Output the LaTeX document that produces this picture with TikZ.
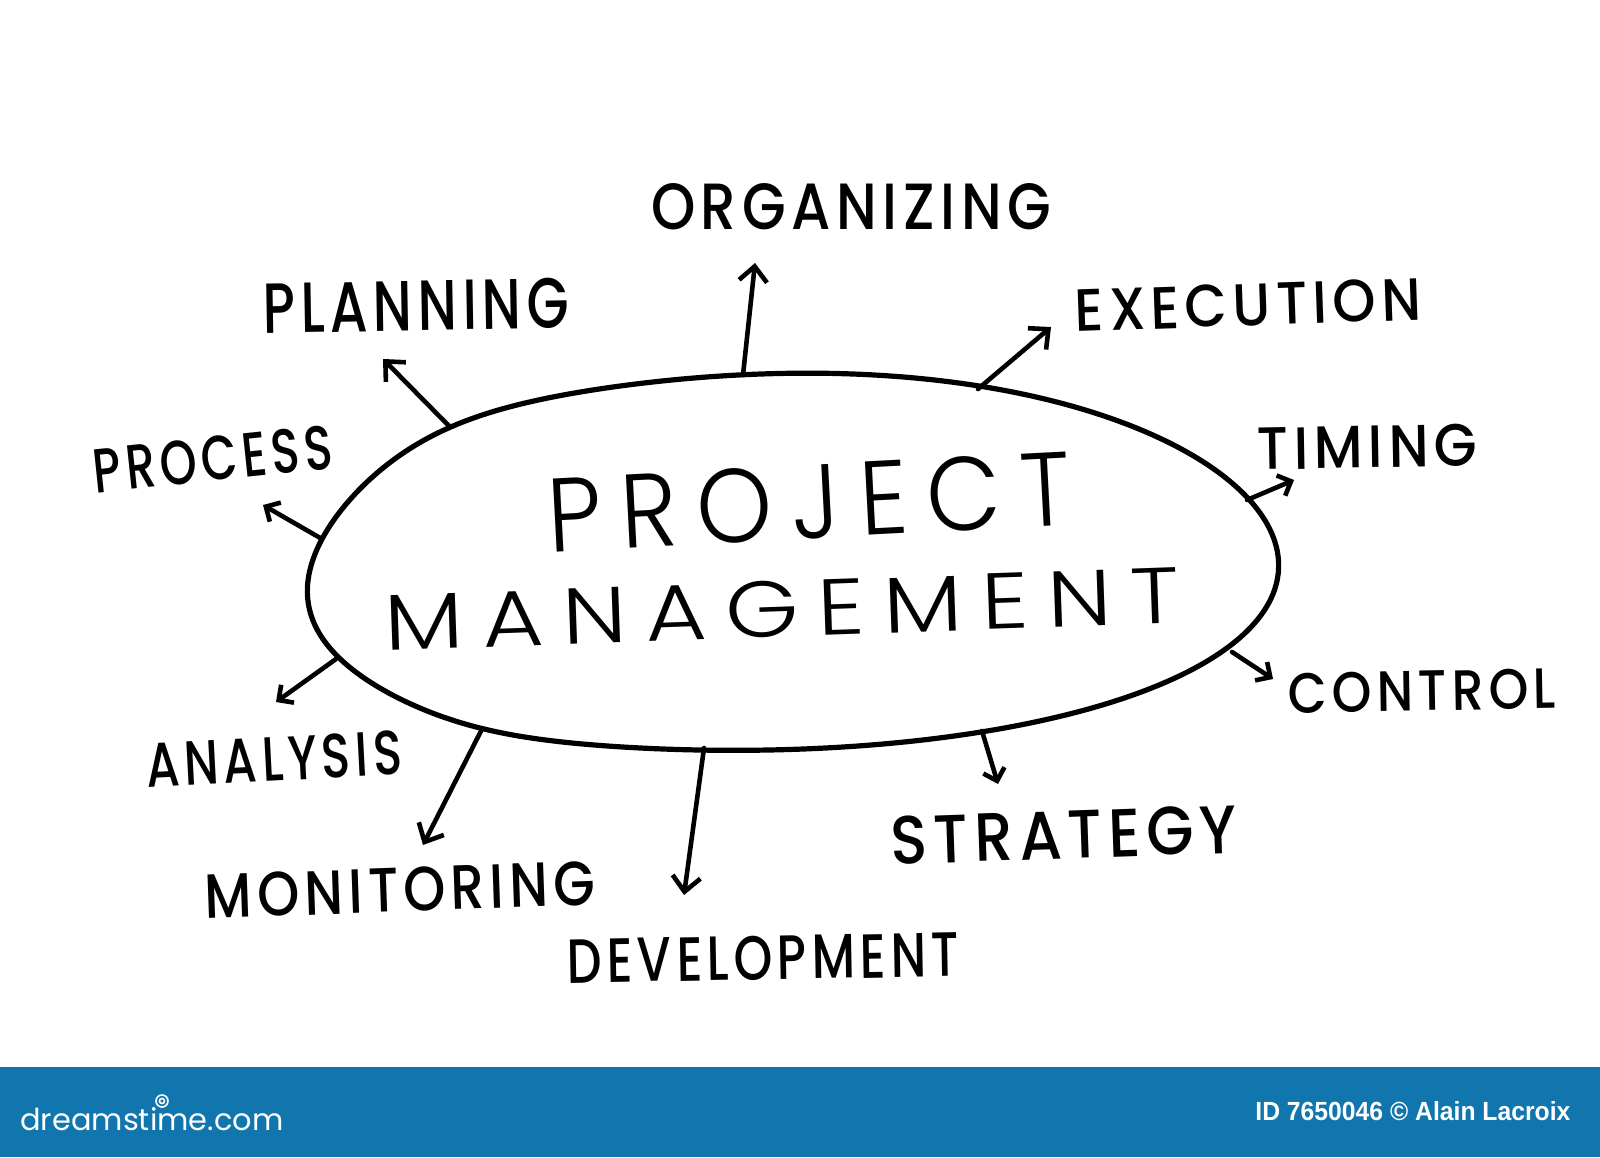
\documentclass[tikz,border=0pt]{standalone}
\usepackage{fontspec}
\setmainfont{Poppins}
\newfontfamily\lightfont{Poppins Light}
\newfontfamily\medfont{Poppins Medium}
\newfontfamily\barfont{Liberation Sans}
\usetikzlibrary{arrows.meta}
\definecolor{barblue}{RGB}{17,117,174}
\newcommand{\fittext}[4]{\resizebox{#1pt}{#2pt}{\addfontfeature{LetterSpace=#3}#4}}
\tikzset{
  lbl/.style={inner sep=0pt, font=\medfont\fontsize{30}{30}\selectfont},
  ttl/.style={inner sep=0pt, font=\lightfont\fontsize{50}{50}\selectfont},
  arr/.style={line width=2.3pt, line cap=round, -{Straight Barb[length=5.5pt,width=11pt]}},
  arrbig/.style={arr, -{Straight Barb[length=7.5pt,width=14pt]}},
  oval/.style={draw, line width=2.6pt, line join=round},
  bartext/.style={inner sep=0pt, text=white}
}
\begin{document}
\begin{tikzpicture}[x=0.5pt,y=-0.5pt]
\useasboundingbox (0,0) rectangle (1600,1157);
\fill[white] (0,0) rectangle (1600,1157);

% central hand-drawn oval
\draw[oval] plot[domain=0:357, samples=120, smooth cycle]
  ({793 + 484*cos(\x) + 40*sin(\x)},
   {563 - 186*sin(\x) + 18*cos(\x)*cos(\x)
        - 26/((1+((\x-142)/40)^2)^2)
        + 8/((1+((\x-235)/30)^2)^2)});
\node[ttl, rotate=3] (t1) at (809,502) {\fittext{262}{37}{20}{PROJECT}};
\node[ttl, rotate=2] (t2) at (782,609) {\fittext{398}{28}{20}{MANAGEMENT}};

% labels
\node[lbl] (org) at (851,207) {\fittext{200}{23}{10}{ORGANIZING}};
\node[lbl, rotate=1] (pla) at (416,306) {\fittext{153}{25}{10}{PLANNING}};
\node[lbl, rotate=2] (exe) at (1248,305) {\fittext{173}{21}{10}{EXECUTION}};
\node[lbl, rotate=6] (pro) at (213,459) {\fittext{120}{22}{10}{PROCESS}};
\node[lbl, rotate=1] (tim) at (1367,447) {\fittext{110}{21}{10}{TIMING}};
\node[lbl, rotate=1] (con) at (1422,691) {\fittext{134}{20}{10}{CONTROL}};
\node[lbl, rotate=3] (ana) at (274,759) {\fittext{128}{22}{10}{ANALYSIS}};
\node[lbl, rotate=2] (str) at (1064,835) {\fittext{173}{24}{10}{STRATEGY}};
\node[lbl, rotate=2] (mon) at (400,890) {\fittext{195}{22}{10}{MONITORING}};
\node[lbl, rotate=1] (dev) at (763,958) {\fittext{196}{22}{10}{DEVELOPMENT}};

% arrow starts on the oval
\coordinate (sOrg) at (743,375);
\coordinate (sPla) at (449,426);
\coordinate (sExe) at (978,389);
\coordinate (sPro) at (322,539);
\coordinate (sTim) at (1247,500);
\coordinate (sCon) at (1232,652);
\coordinate (sAna) at (336,659);
\coordinate (sMon) at (482,729);
\coordinate (sDev) at (704,748);
\coordinate (sStr) at (982,731);
% arrow tips
\coordinate (kOrg) at (755,263);
\coordinate (kPla) at (383,359);
\coordinate (kExe) at (1051,327);
\coordinate (kPro) at (263,505);
\coordinate (kTim) at (1294,480);
\coordinate (kCon) at (1273,679);
\coordinate (kAna) at (276,702);
\coordinate (kMon) at (423,845);
\coordinate (kDev) at (684,895);
\coordinate (kStr) at (998,784);

\draw[arrbig] (sOrg) -- (kOrg);
\draw[arrbig] (sPla) -- (kPla);
\draw[arrbig] (sExe) -- (kExe);
\draw[arr] (sPro) -- (kPro);
\draw[arr] (sTim) -- (kTim);
\draw[arr] (sCon) -- (kCon);
\draw[arr] (sAna) -- (kAna);
\draw[arrbig] (sMon) -- (kMon);
\draw[arrbig] (sDev) -- (kDev);
\draw[arr] (sStr) -- (kStr);

% bottom bar
\fill[barblue] (0,1067) rectangle (1600,1157);
\node[bartext, anchor=base west] (dt) at (20,1130) {\fittext{131.5}{11.5}{0}{dreamstime.com}};
\draw[white, line width=0.8pt] (162,1101) circle[radius=6] (162,1101) circle[radius=2.5];
\node[bartext, anchor=base west] (id) at (1255,1120) {\barfont\bfseries\fittext{157.5}{9.5}{0}{ID 7650046 © Alain Lacroix}};
\end{tikzpicture}
\end{document}
